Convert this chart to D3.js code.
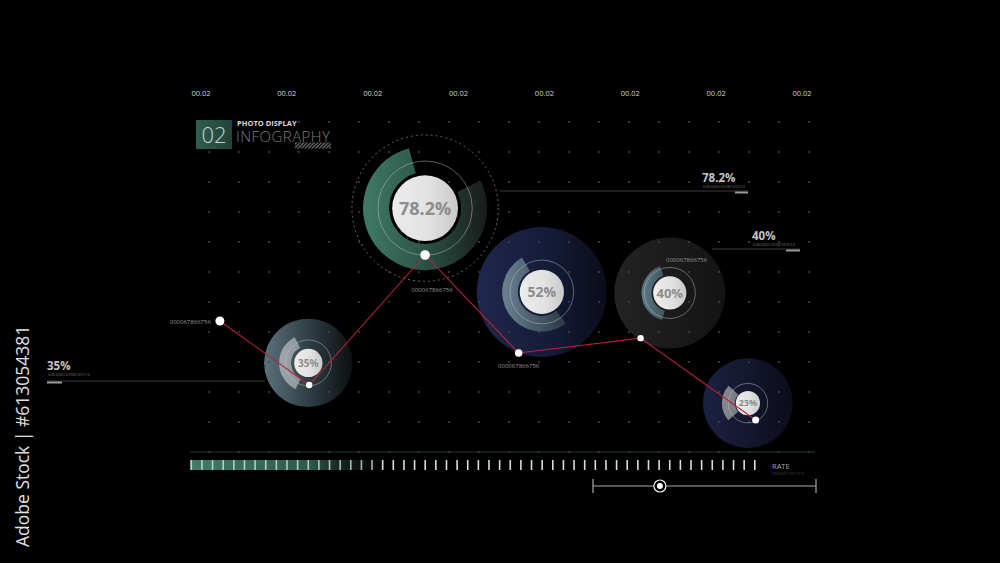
<!DOCTYPE html>
<html><head><meta charset="utf-8">
<script src="https://cdn.jsdelivr.net/npm/d3@7"></script>
<style>body{margin:0;background:#000;overflow:hidden}svg{display:block}</style>
</head><body>
<svg id="c" width="1000" height="563"></svg>
<script>
// ---------- DATA ----------
const topTickLabels = ["00.02","00.02","00.02","00.02","00.02","00.02","00.02","00.02"];
const pointIds = ["000067866756","","000067866756","000067866756","000067866756",""];
const pointX = [0.22, 1.26, 2.61, 3.70, 5.12, 6.46];
const pointY = [39.7, 20.3, 59.7, 30.0, 34.5, 9.7];
const bubbleValues = [78.2, 35, 52, 40, 23];
const bubbleLabels = ["78.2%", "35%", "52%", "40%", "23%"];
const bubbleX = [2.61, 1.25, 3.97, 5.46, 6.37];
const bubbleY = [73.9, 27.0, 48.5, 48.2, 14.8];
const bubbleSize = [18.8, 13.4, 19.7, 16.8, 13.6];
const legendLabels = ["78.2%", "40%", "35%"];
const legendCodes = ["6463460.0008745574", "6463460.0008745574", "6463460.0008745574"];
const titleNumber = "02";
const titleSmall = "PHOTO DISPLAY";
const titleBig = "INFOGRAPHY";
const rateLabel = "RATE";
const rateSub = "PARAMETER HUD";
const sliderValue = 0.3;
const watermark = "Adobe Stock | #613054381";

// ---------- SETUP ----------
const svg = d3.select("#c");
const W = 1000, H = 563;
svg.append("rect").attr("width", W).attr("height", H).attr("fill", "#000");
const defs = svg.append("defs");
const x = d3.scaleLinear().domain([0, 7]).range([201, 802]);
const y = d3.scaleLinear().domain([0, 100]).range([452, 122]);
const rS = d => y(0) - y(d);
const FONT = "'Open Sans', 'Noto Sans', sans-serif";

function linGrad(id, stops, x1 = "0%", x2 = "100%", y1 = "0%", y2 = "0%") {
  const g = defs.append("linearGradient").attr("id", id)
    .attr("x1", x1).attr("x2", x2).attr("y1", y1).attr("y2", y2);
  stops.forEach(s => g.append("stop").attr("offset", s[0]).attr("stop-color", s[1]).attr("stop-opacity", s[2] ?? 1));
  return `url(#${id})`;
}

// bubble styles (index-aligned with bubble arrays)
const bubbleStyle = [
  { fill: null, dashed: 1.18, arcIn: 0.58, arcOut: 1.0, ring: 0.76, white: 0.53, start: -15, font: 18,
    arc: [["0%", "#44806c"], ["45%", "#2f5c4f"], ["100%", "#1a1d1c"]] },
  { fill: [["0%", "#5a717b"], ["55%", "#2c3a40"], ["100%", "#0c0f10"]], arcIn: 0.39, arcOut: 0.66, ring: 0.52, white: 0.32, start: -28, font: 10,
    arc: [["0%", "#a3abaf"], ["100%", "#6d777c"]] },
  { fill: [["0%", "#20274d"], ["60%", "#141a36"], ["100%", "#0a0c18"]], arcIn: 0.37, arcOut: 0.61, ring: 0.49, white: 0.34, start: -30, font: 14,
    arc: [["0%", "#6f8797"], ["60%", "#3c4d5a"], ["100%", "#1f2833"]] },
  { fill: [["0%", "#232323"], ["100%", "#131313"]], arcIn: 0.33, arcOut: 0.51, ring: 0.46, white: 0.30, start: -20, font: 13,
    arc: [["0%", "#5f7e8c"], ["60%", "#34444c"], ["100%", "#1a1e20"]] },
  { fill: [["0%", "#1c2142"], ["100%", "#0b0d1a"]], arcIn: 0.29, arcOut: 0.58, ring: 0.44, white: 0.27, start: -48, font: 9,
    arc: [["0%", "#8d8f94"], ["100%", "#5b5d63"]] }
];

const bubbles = bubbleValues.map((v, i) => ({
  v, label: bubbleLabels[i], cx: x(bubbleX[i]), cy: y(bubbleY[i]), R: rS(bubbleSize[i]), s: bubbleStyle[i], i
}));

// ---------- BUBBLE BACKGROUNDS ----------
const gB = svg.append("g");
bubbles.forEach(b => {
  if (b.s.fill) {
    gB.append("circle").attr("cx", b.cx).attr("cy", b.cy).attr("r", b.R)
      .attr("fill", linGrad("bf" + b.i, b.s.fill));
  }
});

// ---------- GRID DOTS ----------
const gx = d3.range(209, 810, 30), gy = d3.range(122, 453, 30);
svg.append("g").selectAll("circle").data(d3.cross(gx, gy)).join("circle")
  .attr("cx", d => d[0]).attr("cy", d => d[1]).attr("r", 0.9).attr("fill", "#4a4a4a");

// ---------- TOP TICK LABELS ----------
svg.append("g").selectAll("text").data(topTickLabels).join("text")
  .attr("x", (d, i) => x(i)).attr("y", 96).attr("text-anchor", "middle")
  .attr("font-family", FONT).attr("font-size", 7.5).attr("fill", "#d4d4d4").text(d => d);

// ---------- BUBBLE DETAILS ----------
bubbles.forEach(b => {
  const g = svg.append("g").attr("transform", `translate(${b.cx},${b.cy})`);
  const s = b.s;
  if (s.dashed) {
    g.append("circle").attr("r", b.R * s.dashed).attr("fill", "none")
      .attr("stroke", "#6a6a6a").attr("stroke-width", 1).attr("stroke-dasharray", "2,3");
  }
  const span = b.v / 100 * 2 * Math.PI;
  const st = s.start * Math.PI / 180;
  const arc = d3.arc().innerRadius(b.R * s.arcIn).outerRadius(b.R * s.arcOut)
    .startAngle(st - span).endAngle(st);
  const gid = "ag" + b.i;
  const gr = defs.append("linearGradient").attr("id", gid).attr("gradientUnits", "userSpaceOnUse")
    .attr("x1", -b.R * s.arcOut).attr("x2", b.R * s.arcOut).attr("y1", 0).attr("y2", 0);
  s.arc.forEach(st2 => gr.append("stop").attr("offset", st2[0]).attr("stop-color", st2[1]));
  g.append("path").attr("d", arc()).attr("fill", `url(#${gid})`).attr("opacity", 0.95);
  g.append("circle").attr("r", b.R * s.ring).attr("fill", "none")
    .attr("stroke", "#c8c8c8").attr("stroke-opacity", 0.45).attr("stroke-width", 1);
  g.append("circle").attr("r", b.R * s.white)
    .attr("fill", linGrad("wg" + b.i, [["0%", "#ececec"], ["55%", "#e2e2e2"], ["100%", "#c9c9c9"]], "0%", "100%", "0%", "0%"));
  g.append("text").attr("y", s.font * 0.36).attr("text-anchor", "middle")
    .attr("font-family", FONT).attr("font-weight", 700).attr("font-size", s.font)
    .attr("fill", "#8c8c8c").text(b.label);
});

// ---------- LEGEND ROWS ----------
const legendLayout = [
  { tx: 702, ty: 182, x1: 500, x2: 748, ly: 191, bar: [735, 748] },
  { tx: 752, ty: 240, x1: 712, x2: 800, ly: 249, bar: [786, 800] },
  { tx: 47, ty: 370, x1: 47, x2: 265, ly: 381, bar: [47, 62] }
];
legendLabels.forEach((lab, i) => {
  const L = legendLayout[i];
  const g = svg.append("g");
  g.append("line").attr("x1", L.x1).attr("x2", L.x2).attr("y1", L.ly).attr("y2", L.ly)
    .attr("stroke", "#3a3a3a").attr("stroke-width", 1);
  g.append("rect").attr("x", L.bar[0]).attr("y", L.ly + 0.5).attr("width", L.bar[1] - L.bar[0]).attr("height", 2)
    .attr("fill", "#9a9a9a");
  g.append("text").attr("x", L.tx).attr("y", L.ty).attr("font-family", FONT).attr("font-weight", 700)
    .attr("font-size", 11.5).attr("fill", "#c4c4c4").text(lab);
  g.append("text").attr("x", L.tx + 1).attr("y", L.ty + 5.5).attr("font-family", FONT)
    .attr("font-size", 4.2).attr("fill", "#6a6a6a").text(legendCodes[i]);
});

// ---------- TITLE ----------
const gt = svg.append("g");
gt.append("rect").attr("x", 196).attr("y", 120).attr("width", 36).attr("height", 29)
  .attr("fill", linGrad("tb", [["0%", "#2f5d50"], ["100%", "#224237"]]));
gt.append("text").attr("x", 214).attr("y", 143).attr("text-anchor", "middle").attr("font-family", FONT)
  .attr("font-weight", 300).attr("font-size", 22).attr("fill", "#c9d2cf").text(titleNumber);
gt.append("text").attr("x", 237).attr("y", 125.5).attr("font-family", FONT).attr("font-weight", 700)
  .attr("font-size", 7.5).attr("fill", "#d8d8d8").text(titleSmall);
gt.append("text").attr("x", 236).attr("y", 141.5).attr("font-family", FONT).attr("font-weight", 300)
  .attr("font-size", 15).attr("fill", "#7c7c7c").attr("textLength", 94).text(titleBig);
const pat = defs.append("pattern").attr("id", "hatch").attr("width", 2.5).attr("height", 2.5)
  .attr("patternUnits", "userSpaceOnUse").attr("patternTransform", "rotate(45)");
pat.append("rect").attr("width", 1.2).attr("height", 2.5).attr("fill", "#777");
gt.append("rect").attr("x", 295).attr("y", 142.5).attr("width", 36).attr("height", 6).attr("fill", "url(#hatch)");

// ---------- RED LINE + POINTS ----------
const pts = pointX.map((v, i) => [x(v), y(pointY[i])]);
svg.append("path").attr("d", d3.line()(pts)).attr("fill", "none")
  .attr("stroke", "#b3243a").attr("stroke-width", 1.1);
const ptR = [4.5, 3.2, 4.8, 3.8, 3.2, 3.5];
svg.append("g").selectAll("circle").data(pts).join("circle")
  .attr("cx", d => d[0]).attr("cy", d => d[1]).attr("r", (d, i) => ptR[i]).attr("fill", "#fff");
const idLayout = [
  { dx: -9, dy: 3.5, a: "end" }, null,
  { dx: 7, dy: 37, a: "middle" },
  { dx: 0, dy: 15, a: "middle" },
  { dx: 46, dy: -76, a: "middle" }, null
];
pointIds.forEach((t, i) => {
  const L = idLayout[i]; if (!L || !t) return;
  svg.append("text").attr("x", pts[i][0] + L.dx).attr("y", pts[i][1] + L.dy).attr("text-anchor", L.a)
    .attr("font-family", FONT).attr("font-size", 6).attr("fill", "#9a9a9a").text(t);
});

// ---------- BOTTOM BAR ----------
const gb = svg.append("g");
gb.append("line").attr("x1", 190).attr("x2", 815).attr("y1", 452).attr("y2", 452)
  .attr("stroke", "#1f3a38").attr("stroke-width", 1.2);
gb.append("rect").attr("x", 190).attr("y", 460).attr("width", 200).attr("height", 10)
  .attr("fill", linGrad("bar", [["0%", "#3f7c69"], ["60%", "#2c5a4c"], ["100%", "#0f1c18", 0]]));
const ticks = d3.range(0, 54);
const tx = d3.scaleLinear().domain([0, 53]).range([190.5, 754]);
gb.selectAll("rect.t").data(ticks).join("rect").attr("class", "t")
  .attr("x", d => tx(d)).attr("y", 460).attr("width", 1.6).attr("height", 10)
  .attr("fill", "#e8e8e8").attr("opacity", d => tx(d) < 380 ? 0.75 : 0.95);
gb.append("text").attr("x", 772).attr("y", 469).attr("font-family", FONT).attr("font-size", 7.5)
  .attr("fill", "#a8a8a8").text(rateLabel);
gb.append("text").attr("x", 772).attr("y", 475).attr("font-family", FONT).attr("font-size", 4)
  .attr("fill", "#3a3a3a").text(rateSub);
const sx = d3.scaleLinear().domain([0, 1]).range([593, 816]);
gb.append("line").attr("x1", sx(0)).attr("x2", sx(1)).attr("y1", 486).attr("y2", 486)
  .attr("stroke", "#a8a8a8").attr("stroke-width", 1.2);
[0, 1].forEach(v => gb.append("line").attr("x1", sx(v)).attr("x2", sx(v)).attr("y1", 479).attr("y2", 493)
  .attr("stroke", "#a8a8a8").attr("stroke-width", 1.2));
gb.append("circle").attr("cx", sx(sliderValue)).attr("cy", 486).attr("r", 6).attr("fill", "#000")
  .attr("stroke", "#eee").attr("stroke-width", 1.2);
gb.append("circle").attr("cx", sx(sliderValue)).attr("cy", 486).attr("r", 3).attr("fill", "#fff");

// ---------- WATERMARK ----------
svg.append("text").attr("transform", "translate(29,547) rotate(-90)")
  .attr("font-family", FONT).attr("font-size", 17.5).attr("fill", "#e0e0e0").text(watermark);
</script>
</body></html>
